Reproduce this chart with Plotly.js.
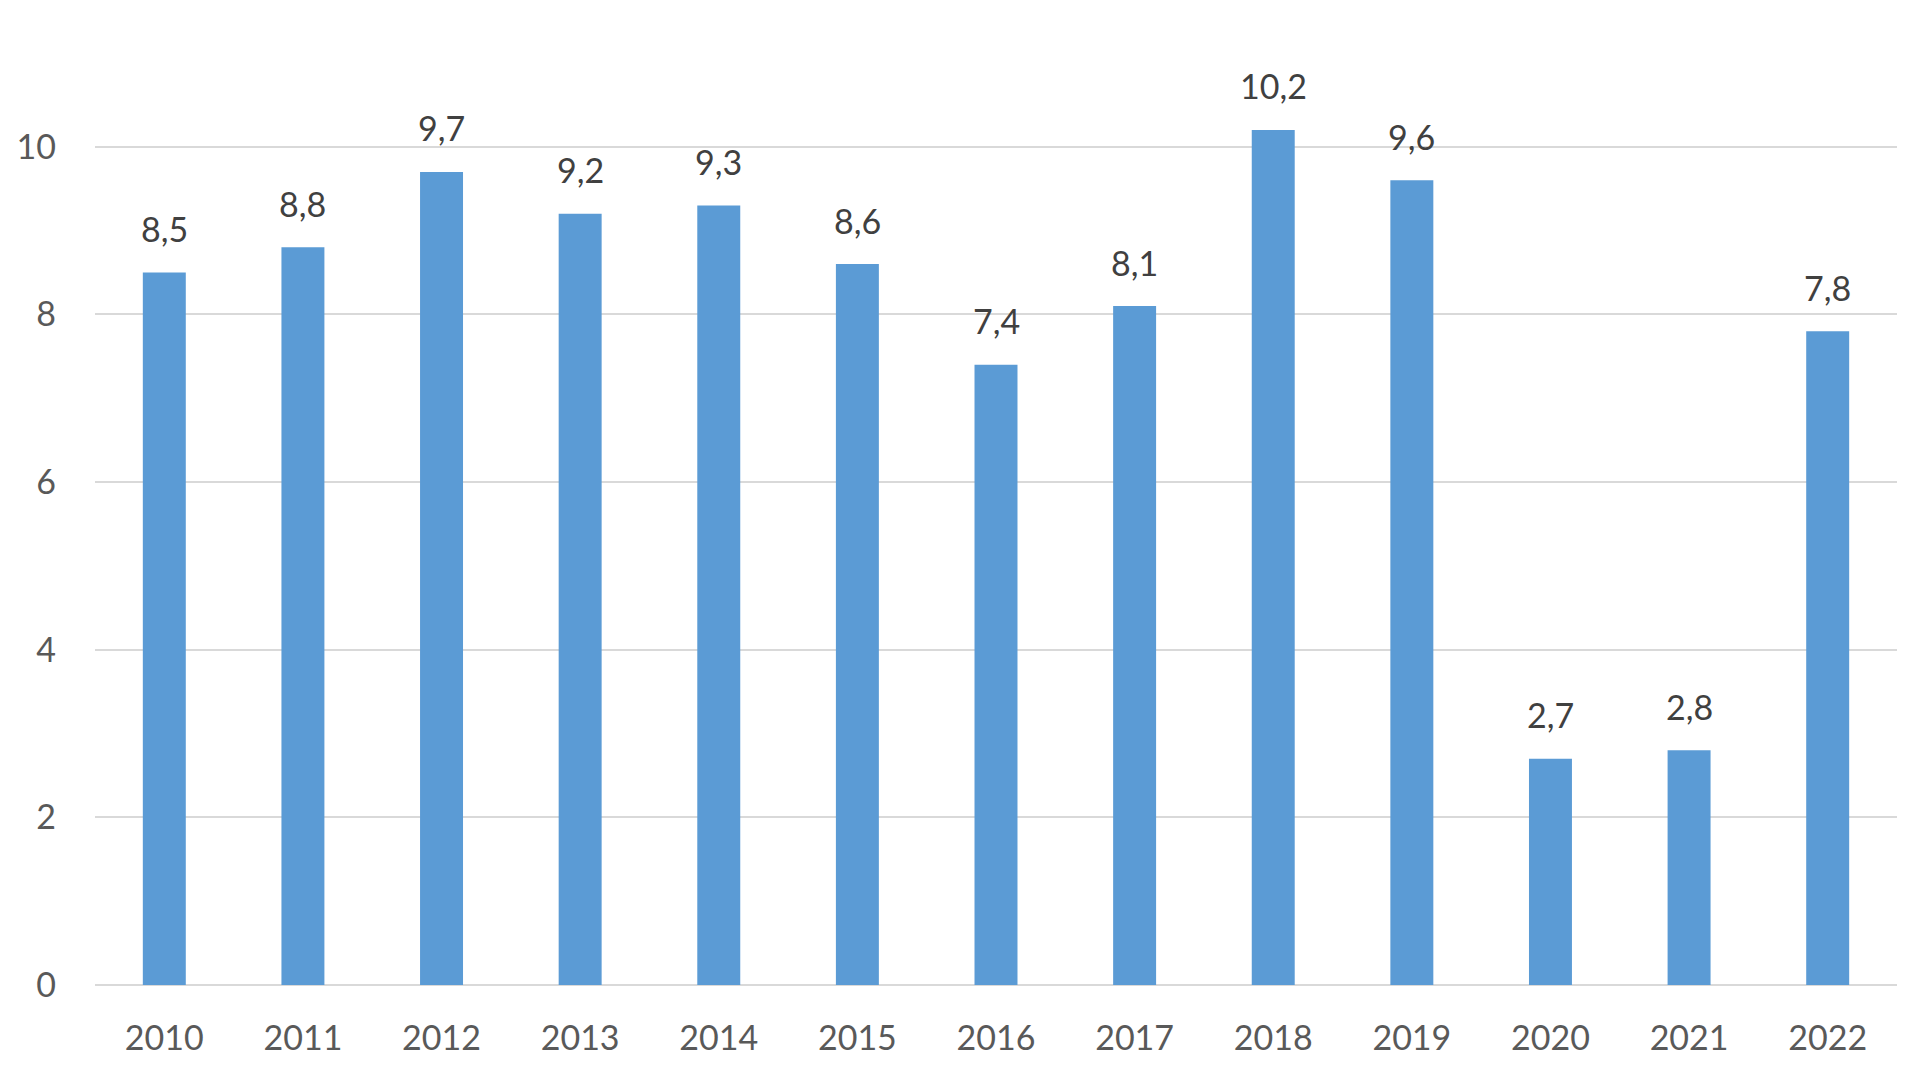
<!DOCTYPE html>
<html>
<head>
<meta charset="utf-8">
<script src="https://cdn.plot.ly/plotly-3.0.1.min.js"></script>
<style>html,body{margin:0;padding:0;background:#fff;}#chart{width:1920px;height:1080px;}</style>
</head>
<body>
<div id="chart"></div>
<script>
const years = ["2010","2011","2012","2013","2014","2015","2016","2017","2018","2019","2020","2021","2022"];
const values = [8.5, 8.8, 9.7, 9.2, 9.3, 8.6, 7.4, 8.1, 10.2, 9.6, 2.7, 2.8, 7.8];
const yTicks = [0, 2, 4, 6, 8, 10];

const FONT = "Lato, 'Open Sans', sans-serif";

const trace = {
  type: "bar",
  x: years,
  y: values,
  marker: {color: "#5B9BD5"},
  hoverinfo: "x+y"
};

const annotations = years.map((yr, i) => ({
  x: i,
  y: values[i],
  xref: "x",
  yref: "y",
  text: values[i].toFixed(1).replace(".", ","),
  showarrow: false,
  yanchor: "middle",
  xanchor: "center",
  yshift: 44,
  font: {family: FONT, size: 34, color: "#404040"}
}));

const layout = {
  width: 1920,
  height: 1080,
  margin: {l: 95, r: 23, t: 21, b: 95},
  paper_bgcolor: "#ffffff",
  plot_bgcolor: "#ffffff",
  separators: ", ",
  showlegend: false,
  bargap: 0.69,
  xaxis: {
    type: "category",
    range: [-0.5, years.length - 0.5],
    showgrid: false,
    showline: false,
    zeroline: false,
    ticks: "",
    ticklabelstandoff: 30,
    tickfont: {family: FONT, size: 34, color: "#595959"}
  },
  yaxis: {
    range: [0, 11.5],
    tickvals: yTicks,
    ticktext: yTicks.map(String),
    showgrid: true,
    gridcolor: "#D9D9D9",
    gridwidth: 2,
    zeroline: true,
    zerolinecolor: "#D9D9D9",
    zerolinewidth: 2,
    showline: false,
    ticks: "",
    ticklabelstandoff: 38,
    tickfont: {family: FONT, size: 34, color: "#595959"}
  },
  annotations: annotations
};

Plotly.newPlot("chart", [trace], layout, {displayModeBar: false, staticPlot: true});
</script>
</body>
</html>
